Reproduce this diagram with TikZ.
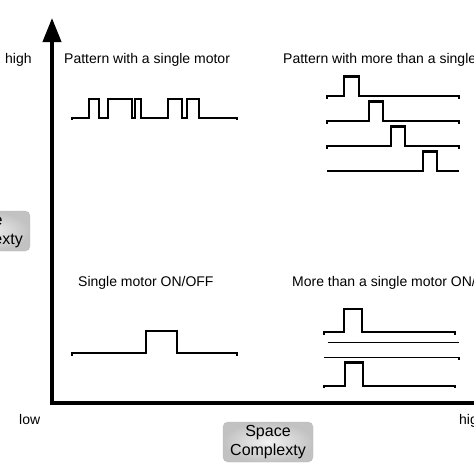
\documentclass[tikz,border=0pt]{standalone}
\usepackage{fontspec}
\setmainfont{Liberation Sans}
\usetikzlibrary{arrows.meta}

\begin{document}
\begin{tikzpicture}[x=1pt, y=-1pt, >={Triangle[width=18pt,length=24pt]},
    axis/.style={line width=4pt, line cap=butt},
    signal/.style={line width=2.2pt},
    flat/.style={line width=1.3pt},
    lbl/.style={anchor=base west, inner sep=0pt, font=\fontsize{14}{16}\selectfont},
    cbox/.style={draw=gray!55, rounded corners=5pt, inner color=gray!10, outer color=gray!48,
      minimum width=90pt, minimum height=40pt, align=center, inner sep=0pt,
      font=\fontsize{16}{19}\selectfont}]

    \useasboundingbox (0,0) rectangle (474,474);
    \clip (0,0) rectangle (474,474);

    % axes
    \coordinate (origin) at (52,403);
    \coordinate (ytop) at (52,18);
    \coordinate (xend) at (480,403);
    \draw [axis, ->] (xend) -- (origin) -- (ytop);

    \node [lbl] (high-y) at (5,63) {high};
    \node [lbl] (low) at (19,424) {low};
    \node [lbl] (high-x) at (459,424) {high};

    \node [cbox] (timebox) at (-15,231) {Time\\Complexty};
    \node [cbox] (spacebox) at (268,442) {Space\\Complexty};

    % quadrant titles
    \node [lbl] (pat-single) at (64,63) {Pattern with a single motor};
    \node [lbl] (pat-multi) at (283,63) {Pattern with more than a single motor};
    \node [lbl] (on-single) at (78,286) {Single motor ON/OFF};
    \node [lbl] (on-multi) at (292,286) {More than a single motor ON/OFF};

    % pattern, single motor
    \draw [signal] (72,120) -- (72,118) -- (89.3,118) -- (89.3,99) -- (99,99) -- (99,118)
      -- (108.3,118) -- (108.3,99) -- (131.7,99) -- (131.7,118) -- (135,118) -- (135,99)
      -- (140.7,99) -- (140.7,118) -- (168.3,118) -- (168.3,99) -- (181.7,99) -- (181.7,118)
      -- (186.7,118) -- (186.7,99) -- (198.7,99) -- (198.7,118) -- (236.7,118) -- (236.7,120);

    % pattern, more than a single motor
    \foreach \y/\r/\f in {96/344/359, 121/369.3/383.3, 146/390.7/405}
      \draw [signal] (327,\y+2.5) -- (327,\y) -- (\r,\y) -- (\r,\y-19.5) -- (\f,\y-19.5)
        -- (\f,\y) -- (459,\y) -- (459,\y+2.5);
    \draw [signal] (327,170.7) -- (423.3,170.7) -- (423.3,151.5) -- (437.3,151.5)
      -- (437.3,170.7) -- (458.5,170.7);

    % single motor on/off
    \draw [signal] (71.7,355.5) -- (71.7,353.3) -- (146.3,353.3) -- (146.3,331) -- (177.3,331)
      -- (177.3,353.3) -- (237.3,353.3) -- (237.3,355.5);

    % more than a single motor on/off
    \foreach \y/\r/\f in {332.3/344.3/362.3, 386/345/362.7}
      \draw [signal] (324,\y+2.3) -- (324,\y) -- (\r,\y) -- (\r,\y-23.5) -- (\f,\y-23.5)
        -- (\f,\y) -- (455,\y) -- (455,\y+2.3);
    \draw [flat] (327.7,342.7) -- (459,342.7);
    \draw [flat] (324.3,357.3) -- (459,357.3) -- (459,359.5);

\end{tikzpicture}
\end{document}
